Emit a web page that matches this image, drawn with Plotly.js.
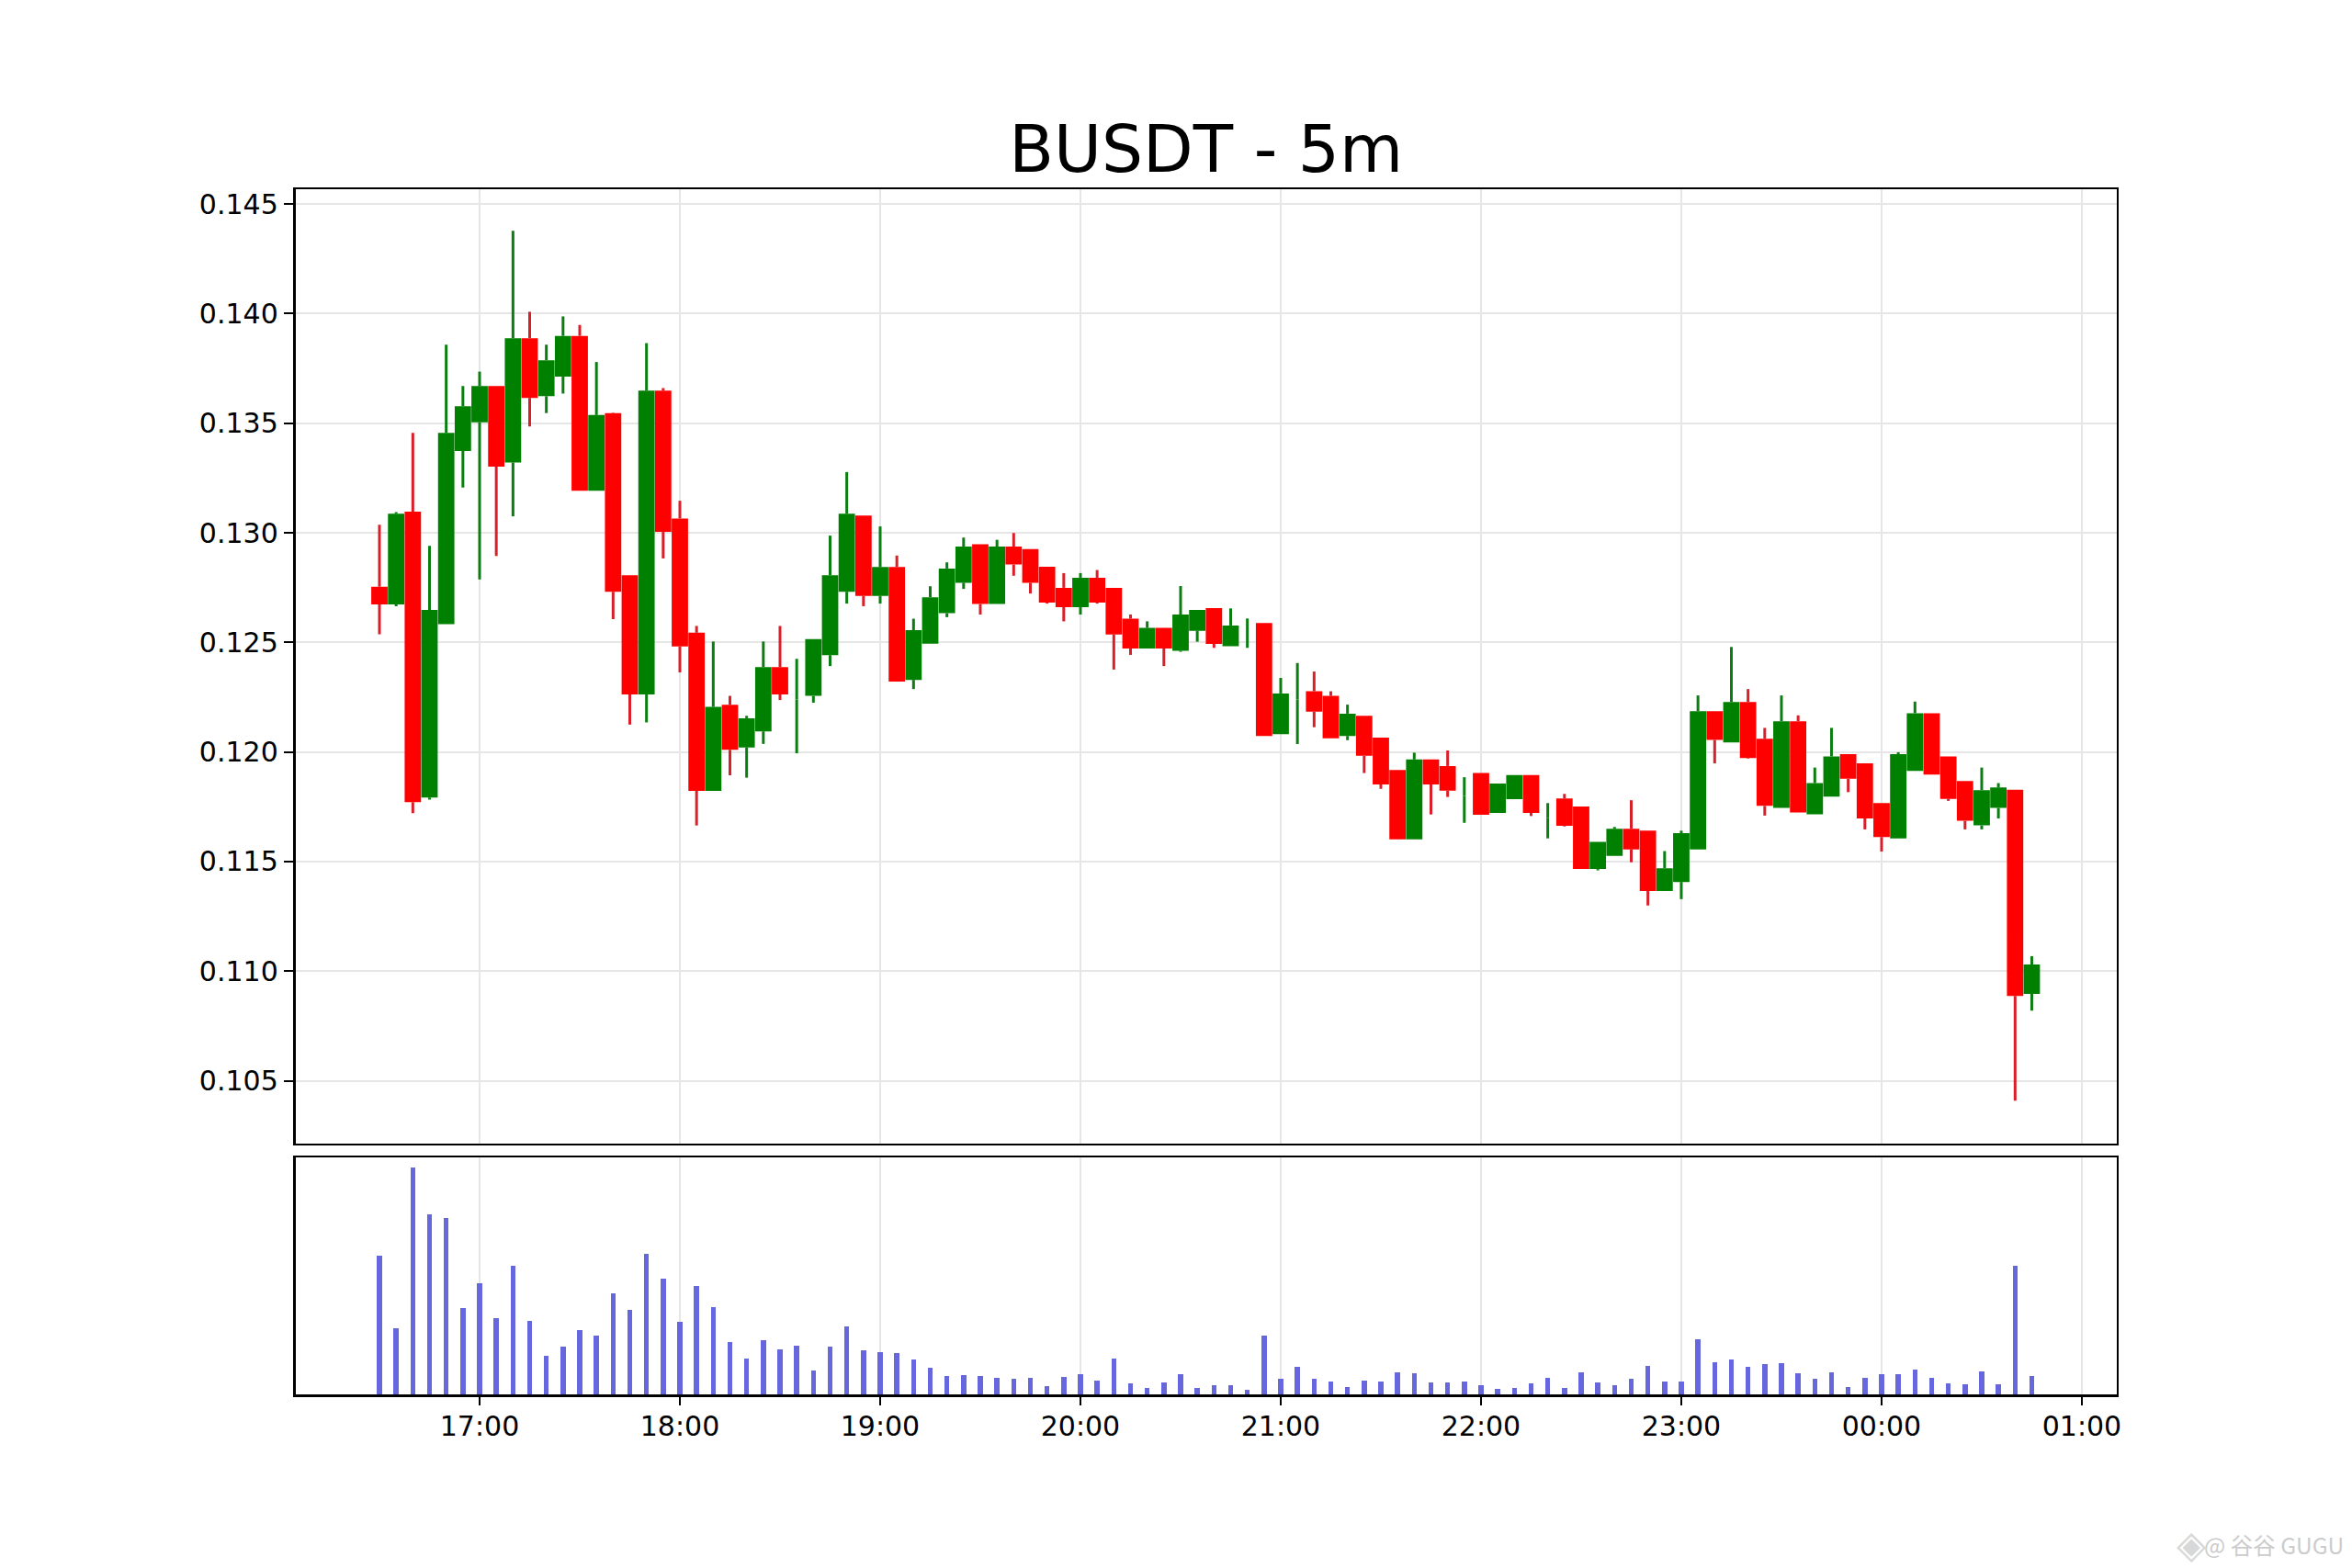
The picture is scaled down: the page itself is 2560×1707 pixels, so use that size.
<!DOCTYPE html>
<html>
<head>
<meta charset="utf-8">
<script src="https://cdn.plot.ly/plotly-3.0.1.min.js"></script>
<style>html,body{margin:0;padding:0;background:#fff}#chart{width:2560px;height:1707px}</style>
</head>
<body>
<div id="chart"></div>
<script>
var timeLabels = ["16:30","16:35","16:40","16:45","16:50","16:55","17:00","17:05","17:10","17:15","17:20","17:25","17:30","17:35","17:40","17:45","17:50","17:55",
"18:00","18:05","18:10","18:15","18:20","18:25","18:30","18:35","18:40","18:45","18:50","18:55","19:00","19:05","19:10","19:15","19:20","19:25","19:30","19:35","19:40","19:45","19:50","19:55",
"20:00","20:05","20:10","20:15","20:20","20:25","20:30","20:35","20:40","20:45","20:50","20:55","21:00","21:05","21:10","21:15","21:20","21:25","21:30","21:35","21:40","21:45","21:50","21:55",
"22:00","22:05","22:10","22:15","22:20","22:25","22:30","22:35","22:40","22:45","22:50","22:55","23:00","23:05","23:10","23:15","23:20","23:25","23:30","23:35","23:40","23:45","23:50","23:55",
"00:00","00:05","00:10","00:15","00:20","00:25","00:30","00:35","00:40","00:45"];

var openPrices = [.12754,.12673,.13096,.11792,.12583,.13373,.13504,.13669,.13321,.13887,.13623,.13712,.13898,.13192,.13546,.12806,.12263,.13648,.13065,.12544,.11823,.12215,.12021,.12094,.12387,.12240,.12256,.12442,.12731,.13079,.12712,.12844,.12329,.12494,.12633,.12772,.12948,.12675,.12937,.12926,.12845,.12749,.12661,.12795,.12749,.12608,.12472,.12566,.12462,.12553,.12656,.12483,.12560,.12588,.12081,.12240,.12277,.12256,.12073,.12165,.12066,.11918,.11602,.11966,.11936,.11800,.11904,.11722,.11785,.11895,.11700,.11788,.11751,.11466,.11526,.11650,.11641,.11366,.11407,.11556,.12186,.12044,.12228,.12060,.11745,.12140,.11716,.11796,.11990,.11948,.11767,.11606,.11914,.12177,.11980,.11868,.11665,.11745,.11828,.10897];
var highPrices = [.13037,.13094,.13456,.12940,.13858,.13669,.13735,.13669,.14377,.14008,.13858,.13987,.13948,.13779,.13548,.12806,.13865,.13660,.13146,.12575,.12504,.12256,.12165,.12504,.12575,.12425,.12515,.12987,.13277,.13079,.13029,.12896,.12608,.12756,.12865,.12978,.12948,.12968,.12999,.12926,.12845,.12816,.12816,.12830,.12749,.12627,.12596,.12566,.12757,.12648,.12656,.12655,.12609,.12588,.12338,.12406,.12367,.12277,.12216,.12165,.12066,.11918,.11997,.11966,.12007,.11885,.11904,.11856,.11895,.11895,.11767,.11809,.11751,.11590,.11658,.11780,.11641,.11548,.11641,.12258,.12186,.12479,.12287,.12110,.12258,.12167,.11929,.12110,.11990,.11948,.11767,.11999,.12230,.12177,.11980,.11868,.11929,.11858,.11828,.11068];
var lowPrices = [.12537,.12665,.11721,.11783,.12583,.13206,.12787,.12894,.13075,.13485,.13546,.13635,.13192,.13192,.12606,.12125,.12135,.12883,.12363,.11665,.11823,.11894,.11883,.12037,.12237,.11994,.12225,.12392,.12677,.12665,.12677,.12321,.12287,.12494,.12615,.12744,.12627,.12675,.12804,.12723,.12677,.12596,.12627,.12677,.12376,.12443,.12472,.12392,.12457,.12503,.12475,.12483,.12475,.12073,.12081,.12036,.12113,.12063,.12054,.11904,.11832,.11602,.11602,.11715,.11795,.11677,.11714,.11722,.11785,.11708,.11606,.11660,.11466,.11460,.11526,.11497,.11300,.11366,.11329,.11556,.11948,.12044,.11969,.11710,.11745,.11724,.11716,.11796,.11817,.11647,.11546,.11606,.11914,.11897,.11777,.11647,.11647,.11697,.10410,.10820];
var closePrices = [.12673,.13087,.11771,.12648,.13456,.13577,.13669,.13302,.13887,.13615,.13787,.13898,.13192,.13537,.12731,.12263,.13648,.13004,.12481,.11823,.12206,.12010,.12154,.12387,.12263,.12240,.12515,.12806,.13087,.12712,.12844,.12321,.12556,.12706,.12837,.12937,.12675,.12937,.12855,.12772,.12682,.12661,.12795,.12682,.12536,.12472,.12566,.12472,.12627,.12648,.12493,.12577,.12560,.12073,.12267,.12240,.12184,.12063,.12175,.11983,.11852,.11602,.11966,.11852,.11824,.11800,.11714,.11856,.11895,.11722,.11700,.11663,.11466,.11590,.11650,.11556,.11366,.11470,.11630,.12186,.12055,.12228,.11972,.11754,.12140,.11724,.11858,.11980,.11878,.11697,.11612,.11990,.12177,.11897,.11786,.11686,.11826,.11838,.10887,.11031];
var volumes = [152,73,248,197,193,95,122,84,141,81,43,53,71,65,111,93,154,127,80,119,96,58,40,60,50,54,27,53,75,49,47,46,39,30,21,22,21,19,18,19,10,20,23,16,40,13,8,14,23,8,11,11,6,65,18,31,18,15,9,16,15,25,24,14,14,15,11,7,8,13,19,8,25,14,11,18,32,15,15,61,36,39,31,34,35,24,18,25,9,19,23,23,28,19,13,12,26,12,141,21];
var priceTicks = [0.105,0.110,0.115,0.120,0.125,0.130,0.135,0.140,0.145];
var titleText = "BUSDT - 5m";
var watermarkText = "@ 谷谷 GUGU";

function stamp(label){ return (parseInt(label,10) < 12 ? "2021-01-02 " : "2021-01-01 ") + label + ":00"; }
var times = timeLabels.map(stamp);

function wicks(wanted){
  var xs = [], ys = [];
  times.forEach(function(t,i){
    var up = closePrices[i] >= openPrices[i];
    if (up !== wanted) return;
    var top = Math.max(openPrices[i], closePrices[i]), bot = Math.min(openPrices[i], closePrices[i]);
    xs.push(t,t,null,t,t,null);
    ys.push(highPrices[i],top,null,bot,lowPrices[i],null);
  });
  return {x:xs,y:ys};
}
var GREEN="#008000", RED="#ff0000";
var gw=wicks(true), rw=wicks(false);
var traces = [
 {type:"candlestick",x:times,open:openPrices,high:highPrices,low:lowPrices,close:closePrices,xaxis:"x",yaxis:"y",whiskerwidth:0,
  increasing:{line:{color:GREEN,width:0},fillcolor:GREEN},
  decreasing:{line:{color:RED,width:0},fillcolor:RED},showlegend:false,hoverinfo:"skip"},
 {type:"scatter",mode:"lines",x:gw.x,y:gw.y,xaxis:"x",yaxis:"y",line:{color:"#0b7d12",width:3},showlegend:false,hoverinfo:"skip"},
 {type:"scatter",mode:"lines",x:rw.x,y:rw.y,xaxis:"x",yaxis:"y",line:{color:"#d81f2a",width:3},showlegend:false,hoverinfo:"skip"},
 {type:"bar",x:times,y:volumes,xaxis:"x2",yaxis:"y2",width:90000,marker:{color:"#6666dd",line:{width:0}},showlegend:false,hoverinfo:"skip"}
];
var W=2560,H=1707;
var tickFont={family:"DejaVu Sans",size:30,color:"#000"};
var xr=["2021-01-01 16:04:53","2021-01-02 01:10:24"];
var common={type:"date",range:xr,dtick:3600000,tick0:"2021-01-01 17:00:00",tickformat:"%H:%M",showgrid:true,gridcolor:"#e6e6e6",gridwidth:2,
  showline:true,linecolor:"#000",linewidth:2.5,mirror:true,zeroline:false,domain:[321.75/W,2303.75/W]};
var layout={
 width:W,height:H,margin:{l:0,r:0,t:0,b:0},paper_bgcolor:"#fff",plot_bgcolor:"#fff",showlegend:false,
 boxmode:"overlay",boxgap:0.02,boxgroupgap:0,bargap:0,
 title:{text:titleText,x:1312.75/W,xanchor:"center",y:1-186.7/H,yanchor:"bottom",yref:"paper",pad:{t:0,b:0,l:0,r:0},font:{family:"DejaVu Sans",size:71,color:"#000"}},
 xaxis:Object.assign({},common,{anchor:"y",showticklabels:false,ticks:"",rangeslider:{visible:false}}),
 xaxis2:Object.assign({},common,{anchor:"y2",showticklabels:true,ticks:"outside",ticklen:9.5,tickwidth:2,tickcolor:"#000",tickfont:tickFont,ticklabelstandoff:-3}),
 yaxis:{domain:[1-1244.75/H,1-206.25/H],anchor:"x",range:[0.102147,0.14566],tickmode:"array",tickvals:priceTicks,ticktext:priceTicks.map(function(v){return v.toFixed(3)}),
  ticks:"outside",ticklen:10.5,tickwidth:2,tickcolor:"#000",tickfont:tickFont,showgrid:true,gridcolor:"#e6e6e6",gridwidth:2,showline:true,linecolor:"#000",linewidth:2.5,mirror:true,zeroline:false},
 yaxis2:{domain:[1-1518/H,1-1260/H],anchor:"x2",range:[1.3,259.3],showticklabels:false,ticks:"",showgrid:false,showline:true,linecolor:"#000",linewidth:2.5,mirror:true,zeroline:false},
 annotations:[
  {xref:"paper",yref:"paper",x:2553/W,y:1-1681/H,xanchor:"right",yanchor:"middle",text:watermarkText,showarrow:false,font:{family:"Noto Sans CJK SC",size:24.5,color:"#cccccc"}},
  {xref:"paper",yref:"paper",x:2385/W,y:1-1681/H,xanchor:"center",yanchor:"middle",text:"◈",showarrow:false,font:{family:"DejaVu Sans",size:42,color:"#d8d8d8"}}
 ]
};
Plotly.newPlot("chart",traces,layout,{displayModeBar:false,staticPlot:true});
</script>
</body>
</html>
